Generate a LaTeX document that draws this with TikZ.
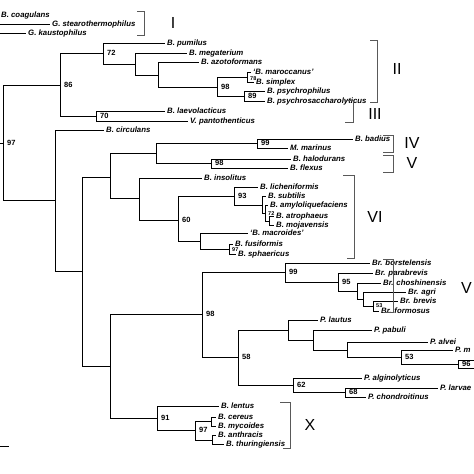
\documentclass[tikz,border=0pt]{standalone}
\usepackage{fontspec}
\setmainfont{Liberation Sans}
\usetikzlibrary{positioning}

\begin{document}
\begin{tikzpicture}[x=1pt, y=-1pt,
branch/.style={draw=black, line width=0.7pt},
leaf/.style={anchor=west, inner sep=2pt, text height=5pt, text depth=0.5pt, font=\fontsize{7.8}{9}\selectfont\bfseries\itshape},
boot/.style={anchor=west, inner sep=1.5pt, xshift=2.5pt, text height=5pt, text depth=0pt, font=\fontsize{7.5}{9}\selectfont\bfseries},
bootsmall/.style={boot, inner sep=0.5pt, text height=4pt, font=\fontsize{5.5}{6}\selectfont\bfseries},
group/.style={draw=black!65, line width=0.7pt},
grouplabel/.style={inner sep=0pt, font=\fontsize{16}{18}\selectfont}]

\useasboundingbox (0,0) rectangle (474,474);

\coordinate (og1) at (0,24);
\coordinate (og2) at (0,33);
\node[leaf, inner sep=1pt] (coagulans) at (0,15) {B. coagulans};
\node[leaf] (stearo) at (50,24) {G. stearothermophilus};
\node[leaf] (kausto) at (26,33) {G. kaustophilus};
\draw[branch](og1)--(stearo);
\draw[branch](og2)--(kausto);

\coordinate (rootstub) at (0,143);
\coordinate (n97) at (3,143);
\coordinate (n86) at (60,85);
\coordinate (nB) at (55,200);
\draw[branch](rootstub)--(n97);
\draw[branch](n97)|-(n86);
\draw[branch](n97)|-(nB);
\node[boot] (b97) at (n97) {97};

\coordinate (n72) at (103,53);
\coordinate (n70) at (96,116);
\draw[branch](n86)|-(n72);
\draw[branch](n86)|-(n70);
\node[boot] (b86) at (n86) {86};

\coordinate (nMeg) at (135,64);
\node[leaf] (pumilus) at (165,43) {B. pumilus};
\draw[branch](n72)|-(pumilus);
\draw[branch](n72)|-(nMeg);
\node[boot] (b72) at (n72) {72};

\coordinate (nAzo) at (158,75);
\node[leaf] (megaterium) at (187,53) {B. megaterium};
\draw[branch](nMeg)|-(megaterium);
\draw[branch](nMeg)|-(nAzo);

\coordinate (n98a) at (217,87);
\node[leaf] (azoto) at (199,62) {B. azotoformans};
\draw[branch](nAzo)|-(azoto);
\draw[branch](nAzo)|-(n98a);

\coordinate (n78) at (247,77);
\coordinate (n89) at (244,96);
\draw[branch](n98a)|-(n78);
\draw[branch](n98a)|-(n89);
\node[boot] (b98a) at (n98a) {98};

\node[leaf] (maroc) at (251,72) {`B. maroccanus'};
\node[leaf] (simplex) at (254,82) {B. simplex};
\draw[branch](n78)|-(maroc);
\draw[branch](n78)|-(simplex);
\node[bootsmall, yshift=-1.5pt] (b78) at (n78) {78};

\node[leaf] (psychro) at (265,91) {B. psychrophilus};
\node[leaf] (psychrosac) at (265,101) {B. psychrosaccharolyticus};
\draw[branch](n89)|-(psychro);
\draw[branch](n89)|-(psychrosac);
\node[boot] (b89) at (n89) {89};

\node[leaf] (laevo) at (165,111) {B. laevolacticus};
\node[leaf] (panto) at (188,121) {V. pantothenticus};
\draw[branch](n70)|-(laevo);
\draw[branch](n70)|-(panto);
\node[boot] (b70) at (n70) {70};

\coordinate (nC) at (82,271);
\node[leaf] (circulans) at (104,130) {B. circulans};
\draw[branch](nB)|-(circulans);
\draw[branch](nB)|-(nC);

\coordinate (nD) at (110,177);
\coordinate (nE) at (110,366);
\draw[branch](nC)|-(nD);
\draw[branch](nC)|-(nE);

\coordinate (nF) at (156,153);
\coordinate (nG) at (139,198);
\draw[branch](nD)|-(nF);
\draw[branch](nD)|-(nG);

\coordinate (n99a) at (257,143);
\coordinate (n98b) at (211,163);
\draw[branch](nF)|-(n99a);
\draw[branch](nF)|-(n98b);

\node[leaf] (badius) at (353,139) {B. badius};
\node[leaf] (marinus) at (288,148) {M. marinus};
\draw[branch](n99a)|-(badius);
\draw[branch](n99a)|-(marinus);
\node[boot] (b99a) at (n99a) {99};

\node[leaf] (halodurans) at (291,159) {B. halodurans};
\node[leaf] (flexus) at (288,168) {B. flexus};
\draw[branch](n98b)|-(halodurans);
\draw[branch](n98b)|-(flexus);
\node[boot] (b98b) at (n98b) {98};

\coordinate (n60) at (178,220);
\node[leaf] (insolitus) at (202,178) {B. insolitus};
\draw[branch](nG)|-(insolitus);
\draw[branch](nG)|-(n60);

\coordinate (n93) at (234,196);
\coordinate (nH) at (200,241);
\draw[branch](n60)|-(n93);
\draw[branch](n60)|-(nH);
\node[boot] (b60) at (n60) {60};

\coordinate (nS) at (262,205);
\node[leaf] (licheni) at (258,187) {B. licheniformis};
\draw[branch](n93)|-(licheni);
\draw[branch](n93)|-(nS);
\node[boot] (b93) at (n93) {93};

\coordinate (n72b) at (265,213);
\node[leaf] (subtilis) at (266,196) {B. subtilis};
\draw[branch](nS)|-(subtilis);
\draw[branch](nS)|-(n72b);

\coordinate (nY) at (269,221);
\node[leaf] (amylo) at (268,205) {B. amyloliquefaciens};
\draw[branch](n72b)|-(amylo);
\draw[branch](n72b)|-(nY);
\node[bootsmall] (b72b) at (n72b) {72};

\node[leaf] (atroph) at (274,216) {B. atrophaeus};
\node[leaf] (mojav) at (274,225) {B. mojavensis};
\draw[branch](nY)|-(atroph);
\draw[branch](nY)|-(mojav);

\coordinate (n97b) at (229,249);
\node[leaf] (macroides) at (248,233) {`B. macroides'};
\draw[branch](nH)|-(macroides);
\draw[branch](nH)|-(n97b);

\node[leaf] (fusif) at (233,244) {B. fusiformis};
\node[leaf] (sphaer) at (236,254) {B. sphaericus};
\draw[branch](n97b)|-(fusif);
\draw[branch](n97b)|-(sphaer);
\node[bootsmall] (b97b) at (n97b) {97};

\coordinate (n98c) at (202,314);
\coordinate (n91) at (157,418);
\draw[branch](nE)|-(n98c);
\draw[branch](nE)|-(n91);

\coordinate (n99b) at (285,272);
\coordinate (n58) at (238,357);
\draw[branch](n98c)|-(n99b);
\draw[branch](n98c)|-(n58);
\node[boot] (b98c) at (n98c) {98};

\coordinate (n95) at (338,282);
\node[leaf] (borstel) at (370,263) {Br. borstelensis};
\draw[branch](n99b)|-(borstel);
\draw[branch](n99b)|-(n95);
\node[boot] (b99b) at (n99b) {99};

\coordinate (nA) at (357,291);
\node[leaf] (parabrevis) at (373,273) {Br. parabrevis};
\draw[branch](n95)|-(parabrevis);
\draw[branch](n95)|-(nA);
\node[boot] (b95) at (n95) {95};

\coordinate (nBr) at (363,299);
\node[leaf] (choshin) at (381,283) {Br. choshinensis};
\draw[branch](nA)|-(choshin);
\draw[branch](nA)|-(nBr);

\coordinate (n53a) at (373,306);
\node[leaf] (agri) at (406,292) {Br. agri};
\draw[branch](nBr)|-(agri);
\draw[branch](nBr)|-(n53a);

\node[leaf] (brevis) at (398,301) {Br. brevis};
\node[leaf] (formosus) at (379,311) {Br. formosus};
\draw[branch](n53a)|-(brevis);
\draw[branch](n53a)|-(formosus);
\node[bootsmall, yshift=0.5pt] (b53a) at (n53a) {53};

\coordinate (nP1) at (288,330);
\coordinate (n62) at (293,385);
\draw[branch](n58)|-(nP1);
\draw[branch](n58)|-(n62);
\node[boot] (b58) at (n58) {58};

\coordinate (nP2) at (313,340);
\node[leaf] (lautus) at (318,320) {P. lautus};
\draw[branch](nP1)|-(lautus);
\draw[branch](nP1)|-(nP2);

\coordinate (nP3) at (347,350);
\node[leaf] (pabuli) at (372,330) {P. pabuli};
\draw[branch](nP2)|-(pabuli);
\draw[branch](nP2)|-(nP3);

\coordinate (n53b) at (401,357);
\node[leaf] (alvei) at (428,342) {P. alvei};
\draw[branch](nP3)|-(alvei);
\draw[branch](nP3)|-(n53b);

\coordinate (n96) at (458,364);
\node[leaf] (pm) at (453,350) {P. m};
\draw[branch](n53b)|-(pm);
\draw[branch](n53b)|-(n96);
\node[boot] (b53b) at (n53b) {53};

\coordinate (edge1) at (474,360);
\coordinate (edge2) at (474,368);
\draw[branch](n96)|-(edge1);
\draw[branch](n96)|-(edge2);
\node[boot] (b96) at (n96) {96};

\coordinate (n68) at (345,392);
\node[leaf] (algino) at (362,378) {P. alginolyticus};
\draw[branch](n62)|-(algino);
\draw[branch](n62)|-(n68);
\node[boot] (b62) at (n62) {62};

\node[leaf] (larvae) at (438,388) {P. larvae};
\node[leaf] (chondro) at (366,397) {P. chondroitinus};
\draw[branch](n68)|-(larvae);
\draw[branch](n68)|-(chondro);
\node[boot] (b68) at (n68) {68};

\coordinate (n97c) at (195,430);
\node[leaf] (lentus) at (219,406) {B. lentus};
\draw[branch](n91)|-(lentus);
\draw[branch](n91)|-(n97c);
\node[boot] (b91) at (n91) {91};

\coordinate (nCe) at (211,421);
\coordinate (nAn) at (212,440);
\draw[branch](n97c)|-(nCe);
\draw[branch](n97c)|-(nAn);
\node[boot] (b97c) at (n97c) {97};

\node[leaf] (cereus) at (216,417) {B. cereus};
\node[leaf] (mycoides) at (216,426) {B. mycoides};
\draw[branch](nCe)|-(cereus);
\draw[branch](nCe)|-(mycoides);

\node[leaf] (anthracis) at (216,435) {B. anthracis};
\node[leaf] (thuring) at (224,444) {B. thuringiensis};
\draw[branch](nAn)|-(anthracis);
\draw[branch](nAn)|-(thuring);

\coordinate (sb0) at (0,446);
\coordinate (sb1) at (9,446);
\draw[branch](sb0)--(sb1);

\draw[group] (137,11) -| (144,35) -- (137,35);
\draw[group] (370,40) -| (377,102) -- (370,102);
\draw[group] (345,100) -| (353,122) -- (345,122);
\draw[group] (383,135) -| (393,152) -- (383,152);
\draw[group] (383,155) -| (393,172) -- (383,172);
\draw[group] (343,175) -| (354,258) -- (347,258);
\draw[group] (383,259) -| (393,312) -- (383,312);
\draw[group] (280,402) -| (290,448) -- (283,448);

\node[grouplabel] (gI) at (173,23) {I};
\node[grouplabel] (gII) at (397,69) {II};
\node[grouplabel] (gIII) at (375,114) {III};
\node[grouplabel] (gIV) at (412,143) {IV};
\node[grouplabel] (gV) at (412,163) {V};
\node[grouplabel] (gVI) at (375,217) {VI};
\node[grouplabel, anchor=west] (gVII) at (461,288) {V};
\node[grouplabel] (gX) at (310,425) {X};
\end{tikzpicture}
\end{document}
